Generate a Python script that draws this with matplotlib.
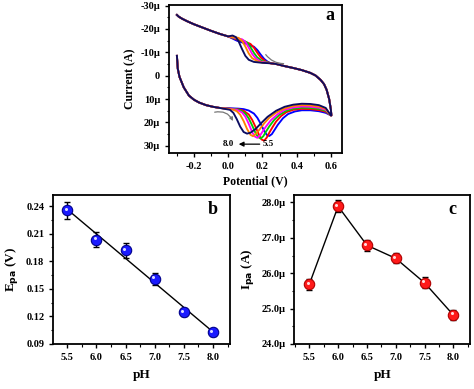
import numpy as np
import matplotlib
matplotlib.use("Agg")
import matplotlib.pyplot as plt
from matplotlib.ticker import AutoMinorLocator, FuncFormatter, MultipleLocator
from matplotlib.transforms import ScaledTranslation

# ============================================================
# Style
# ============================================================
plt.rcParams["font.family"] = ["Liberation Serif", "DejaVu Serif"]
plt.rcParams["font.weight"] = "bold"
plt.rcParams["axes.labelweight"] = "bold"
plt.rcParams["axes.linewidth"] = 1.3

# ============================================================
# Data: CV curves (potential in V, current in µA), one per pH
# ============================================================
PH_LABELS = ["5.5", "6.0", "6.5", "7.0", "7.5", "8.0"]
CV_COLORS = ["#0000ff", "#ff0000", "#00cc00", "#ff00ff", "#ff8000", "#0b0b60"]

# shared parts of the loop
top_left_E = [-0.30, -0.29, -0.27, -0.24, -0.20, -0.15, -0.10, -0.05]
top_left_I = [-26.0, -25.3, -24.4, -23.3, -22.0, -20.6, -19.2, -17.9]
top_right_E = [0.28, 0.33, 0.38, 0.43, 0.48, 0.51, 0.54, 0.56, 0.575, 0.59, 0.60, 0.603]
top_right_I = [-5.0, -4.1, -3.3, -2.4, -1.2, -0.1, 1.8, 3.6, 6.0, 10.0, 14.5, 17.0]
bot_left_E = [-0.05, -0.09, -0.13, -0.17, -0.20, -0.23, -0.26, -0.285, -0.295, -0.30]
bot_left_I = [13.8, 13.3, 12.6, 11.5, 10.3, 8.5, 5.0, 0.5, -3.0, -8.5]

# curve-specific middle parts, order: 5.5, 6.0, 6.5, 7.0, 7.5, 8.0
top_mid_E = [
    [0.0, 0.05, 0.10, 0.15, 0.17, 0.19, 0.21, 0.23, 0.25],
    [0.0, 0.05, 0.10, 0.13, 0.15, 0.17, 0.19, 0.22, 0.25],
    [0.0, 0.05, 0.09, 0.11, 0.13, 0.15, 0.17, 0.20, 0.25],
    [0.0, 0.04, 0.08, 0.10, 0.12, 0.14, 0.16, 0.19, 0.25],
    [0.0, 0.03, 0.06, 0.08, 0.10, 0.12, 0.14, 0.17, 0.20, 0.25],
    [0.0, 0.025, 0.045, 0.06, 0.08, 0.10, 0.12, 0.15, 0.20, 0.25],
]
top_mid_I = [
    [-16.8, -15.0, -13.8, -12.4, -11.0, -9.0, -7.2, -6.0, -5.3],
    [-16.8, -15.5, -14.5, -13.6, -12.0, -9.8, -7.8, -6.0, -5.3],
    [-16.8, -15.8, -15.0, -14.2, -12.2, -9.8, -7.8, -6.2, -5.3],
    [-16.8, -16.2, -15.6, -14.5, -12.0, -9.3, -7.5, -6.0, -5.3],
    [-16.8, -16.5, -16.2, -15.0, -12.5, -9.5, -7.5, -6.2, -5.6, -5.3],
    [-16.8, -17.2, -16.5, -14.8, -11.5, -8.5, -6.8, -5.9, -5.5, -5.3],
]
bot_mid_E = [
    [0.60, 0.57, 0.53, 0.48, 0.43, 0.39, 0.35, 0.32, 0.29, 0.27, 0.255, 0.24, 0.225, 0.21, 0.19, 0.17, 0.15, 0.12, 0.09, 0.06, 0.03, 0.0],
    [0.60, 0.57, 0.53, 0.48, 0.43, 0.38, 0.34, 0.31, 0.28, 0.26, 0.24, 0.225, 0.21, 0.195, 0.18, 0.16, 0.14, 0.12, 0.09, 0.06, 0.03, 0.0],
    [0.60, 0.57, 0.53, 0.48, 0.43, 0.38, 0.34, 0.30, 0.27, 0.24, 0.22, 0.205, 0.19, 0.175, 0.16, 0.14, 0.12, 0.10, 0.07, 0.04, 0.01],
    [0.60, 0.57, 0.53, 0.48, 0.43, 0.38, 0.33, 0.29, 0.25, 0.22, 0.20, 0.185, 0.17, 0.155, 0.14, 0.12, 0.10, 0.08, 0.05, 0.02],
    [0.60, 0.57, 0.53, 0.48, 0.43, 0.38, 0.33, 0.28, 0.24, 0.21, 0.18, 0.16, 0.145, 0.13, 0.11, 0.09, 0.07, 0.05, 0.03, 0.01],
    [0.60, 0.57, 0.53, 0.48, 0.43, 0.38, 0.33, 0.28, 0.23, 0.19, 0.16, 0.13, 0.11, 0.09, 0.07, 0.05, 0.03, 0.01],
]
bot_mid_I = [
    [17.0, 15.9, 15.2, 14.8, 14.8, 15.3, 16.4, 18.2, 21.0, 23.3, 25.0, 25.8, 25.3, 23.6, 20.6, 18.0, 16.2, 14.9, 14.3, 14.1, 14.0, 13.9],
    [17.0, 15.4, 14.7, 14.3, 14.2, 14.6, 15.6, 17.2, 19.6, 21.9, 24.4, 26.5, 27.8, 27.3, 25.3, 22.0, 18.9, 16.6, 15.0, 14.4, 14.2, 14.1],
    [17.0, 15.0, 14.2, 13.8, 13.7, 14.1, 15.0, 16.7, 18.8, 21.7, 24.0, 25.9, 26.9, 26.3, 24.6, 21.3, 18.3, 16.2, 14.8, 14.3, 14.2],
    [17.0, 14.6, 13.7, 13.3, 13.2, 13.6, 14.6, 16.4, 19.0, 21.8, 24.0, 25.7, 26.6, 26.0, 24.2, 20.6, 17.5, 15.7, 14.6, 14.3],
    [17.0, 14.2, 13.2, 12.7, 12.6, 13.0, 14.0, 15.8, 18.0, 20.4, 23.3, 25.0, 25.9, 25.3, 22.8, 19.4, 16.7, 15.2, 14.6, 14.3],
    [17.0, 13.8, 12.6, 12.1, 12.0, 12.4, 13.3, 15.0, 17.6, 20.5, 22.8, 24.4, 24.8, 24.1, 21.8, 18.6, 15.9, 14.6],
]

# ============================================================
# Data: peak potential / current vs pH
# ============================================================
ph = [5.5, 6.0, 6.5, 7.0, 7.5, 8.0]
epa = [0.2353, 0.2036, 0.1920, 0.1605, 0.1244, 0.1027]
epa_err = [0.0093, 0.0080, 0.0083, 0.0066, 0.0045, 0.0036]
ipa = [25.69, 27.89, 26.79, 26.42, 25.73, 24.82]  # µA
ipa_err = [0.16, 0.17, 0.15, 0.14, 0.16, 0.14]

# ============================================================
# Figure
# ============================================================
fig = plt.figure(figsize=(4.74, 3.89), dpi=100)
ax_a = fig.add_axes([0.357, 0.606, 0.3645, 0.382])
ax_b = fig.add_axes([0.1125, 0.1157, 0.3725, 0.383])
ax_c = fig.add_axes([0.621, 0.1157, 0.3706, 0.383])

TICK_FS = 7.5
LABEL_FS = 8.5


def style_axis(ax):
    ax.tick_params(which="major", direction="out", length=3, width=1.0,
                   labelsize=TICK_FS)
    ax.tick_params(which="minor", direction="out", length=1.8, width=0.8)
    ax.xaxis.set_minor_locator(AutoMinorLocator(2))
    ax.yaxis.set_minor_locator(AutoMinorLocator(2))
    for lab in ax.get_xticklabels() + ax.get_yticklabels():
        lab.set_fontweight("bold")


# ---------------- panel a: CV curves ----------------
for i in range(len(PH_LABELS)):
    E = top_left_E + top_mid_E[i] + top_right_E + bot_mid_E[i] + bot_left_E
    I = top_left_I + top_mid_I[i] + top_right_I + bot_mid_I[i] + bot_left_I
    ax_a.plot(E, I, color=CV_COLORS[i], lw=1.35, label=PH_LABELS[i])

ax_a.set_xlim(-0.345, 0.665)
ax_a.set_ylim(33.2, -30.4)
ax_a.xaxis.set_major_locator(MultipleLocator(0.2))
ax_a.yaxis.set_major_locator(MultipleLocator(10))


def micro_fmt(v, pos):
    v = int(round(v))
    return "0" if v == 0 else f"{v}µ"


ax_a.yaxis.set_major_formatter(FuncFormatter(micro_fmt))
ax_a.xaxis.set_major_formatter(FuncFormatter(lambda v, p: f"{v:.1f}"))
ax_a.set_xlabel("Potential (V)", fontsize=LABEL_FS, labelpad=3)
ax_a.set_ylabel("Current (A)", fontsize=LABEL_FS, labelpad=3)
style_axis(ax_a)
ax_a.text(0.93, 0.93, "a", transform=ax_a.transAxes, fontsize=13,
          fontweight="bold", ha="center", va="center")

# pH shift arrow
ax_a.annotate("", xy=(0.045, 29.3), xytext=(0.2, 29.3),
              arrowprops=dict(arrowstyle="-|>", color="black", lw=0.9,
                              mutation_scale=7))
ax_a.text(0.0, 29.3, "8.0", fontsize=6.5, fontweight="bold",
          ha="center", va="center")
ax_a.text(0.235, 29.3, "5.5", fontsize=6.5, fontweight="bold",
          ha="center", va="center")

# scan direction arrows
ax_a.annotate("", xy=(0.34, -5.2), xytext=(0.21, -10.0),
              arrowprops=dict(arrowstyle="-", color="#777777", lw=0.9,
                              connectionstyle="arc3,rad=0.3"))
ax_a.annotate("", xy=(0.035, 20.5), xytext=(-0.095, 15.9),
              arrowprops=dict(arrowstyle="-|>", color="#777777", lw=0.9,
                              mutation_scale=5,
                              connectionstyle="arc3,rad=-0.45"))


def sphere(ax, x, y, face, edge):
    ax.plot(x, y, "o", ms=7.5, mfc=face, mec=edge, mew=0.8, zorder=4)
    shift = ax.transData + ScaledTranslation(-1.2 / 72, 1.2 / 72,
                                             fig.dpi_scale_trans)
    ax.plot(x, y, "o", ms=2.2, mfc="#ffffff", mec="none", alpha=0.85,
            transform=shift, zorder=5)


# ---------------- panel b: Epa vs pH ----------------
fit = np.polyfit(ph, epa, 1)
ph_line = np.array([ph[0], ph[-1]])
ax_b.plot(ph_line, np.polyval(fit, ph_line), color="black", lw=1.0, zorder=2)
ax_b.errorbar(ph, epa, yerr=epa_err, fmt="none", ecolor="black",
              elinewidth=1.0, capsize=2.2, capthick=1.0, zorder=3)
sphere(ax_b, ph, epa, "#1a1aff", "#00008b")
ax_b.set_xlim(5.26, 8.29)
ax_b.set_ylim(0.09, 0.252)
ax_b.xaxis.set_major_locator(MultipleLocator(0.5))
ax_b.yaxis.set_major_locator(MultipleLocator(0.03))
ax_b.xaxis.set_major_formatter(FuncFormatter(lambda v, p: f"{v:.1f}"))
ax_b.yaxis.set_major_formatter(FuncFormatter(lambda v, p: f"{v:.2f}"))
ax_b.set_xlabel("pH", fontsize=LABEL_FS + 1, labelpad=5)
ax_b.set_ylabel("E$_{\\mathbf{pa}}$ (V)", fontsize=LABEL_FS + 1, labelpad=4)
style_axis(ax_b)
ax_b.text(0.9, 0.9, "b", transform=ax_b.transAxes, fontsize=13,
          fontweight="bold", ha="center", va="center")

# ---------------- panel c: Ipa vs pH ----------------
ax_c.plot(ph, ipa, color="black", lw=1.0, zorder=2)
ax_c.errorbar(ph, ipa, yerr=ipa_err, fmt="none", ecolor="black",
              elinewidth=1.0, capsize=2.2, capthick=1.0, zorder=3)
sphere(ax_c, ph, ipa, "#ff1a1a", "#b00000")
ax_c.set_xlim(5.24, 8.29)
ax_c.set_ylim(24.0, 28.21)
ax_c.xaxis.set_major_locator(MultipleLocator(0.5))
ax_c.yaxis.set_major_locator(MultipleLocator(1.0))
ax_c.xaxis.set_major_formatter(FuncFormatter(lambda v, p: f"{v:.1f}"))
ax_c.yaxis.set_major_formatter(FuncFormatter(lambda v, p: f"{v:.1f}µ"))
ax_c.set_xlabel("pH", fontsize=LABEL_FS + 1, labelpad=5)
ax_c.set_ylabel("I$_{\\mathbf{pa}}$ (A)", fontsize=LABEL_FS + 1, labelpad=4)
style_axis(ax_c)
ax_c.text(0.9, 0.9, "c", transform=ax_c.transAxes, fontsize=13,
          fontweight="bold", ha="center", va="center")

fig.savefig("out.png", dpi=100)
